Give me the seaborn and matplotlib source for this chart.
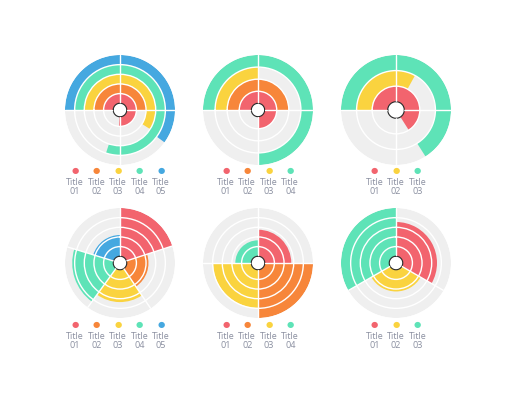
import numpy as np
import matplotlib
matplotlib.use("Agg")
import matplotlib.pyplot as plt
import seaborn as sns

sns.set_style("white")
plt.rcParams['font.family'] = ['Open Sans', 'DejaVu Sans']

RED, ORANGE, YELLOW, TEAL, BLUE = "#F2646E", "#F7863A", "#FAD33F", "#5EE3B7", "#45A8E0"
GRAY = "#EFEFEF"
TXT = "#8A8FA0"

# radial bar charts: fraction of full circle per ring (inner -> outer)
radial1_vals = [0.76, 0.50, 0.59, 0.80, 0.60]
radial1_cols = [RED, ORANGE, YELLOW, TEAL, BLUE]
radial2_vals = [0.75, 0.50, 0.25, 0.75]
radial2_cols = [RED, ORANGE, YELLOW, TEAL]
radial3_vals = [0.66, 0.33, 0.66]
radial3_cols = [RED, YELLOW, TEAL]

# rose charts: sector boundaries (deg clockwise from 12 o'clock) and radii
rose1_edges = [0, 72, 146, 216, 287, 360]
rose1_vals = [1.0, 0.45, 0.67, 0.85, 0.44]
rose1_cols = [RED, ORANGE, YELLOW, TEAL, BLUE]
rose2_edges = [0, 90, 180, 270, 360]
rose2_vals = [0.55, 1.0, 0.79, 0.33]
rose2_cols = [RED, ORANGE, YELLOW, TEAL]
rose3_edges = [0, 120, 240, 360]
rose3_vals = [0.71, 0.45, 1.0]
rose3_cols = [RED, YELLOW, TEAL]

legend_labels = ["01", "02", "03", "04", "05"]

W, H = 517, 400
fig = plt.figure(figsize=(W / 100, H / 100), dpi=100)
fig.patch.set_facecolor("white")


def make_ax(cx, cy, r=55):
    ax = fig.add_axes([(cx - r) / W, 1 - (cy + r) / H, 2 * r / W, 2 * r / H], projection="polar")
    ax.set_facecolor("none")
    ax.spines["polar"].set_visible(False)
    ax.set_xticklabels([])
    ax.set_yticklabels([])
    return ax


def radial(cx, cy, vals, cols, origin):
    ax = make_ax(cx, cy)
    ax.set_theta_zero_location("W")
    ax.set_theta_direction(-1)
    n = len(vals)
    for i, (v, c) in enumerate(zip(vals, cols)):
        ax.bar(np.pi, 1, width=2 * np.pi, bottom=i, color=GRAY, linewidth=0, align="center")
        ax.bar(0, 1, width=v * 2 * np.pi, bottom=i, color=c, linewidth=0, align="edge")
    ax.set_ylim(0, n)
    ax.set_rorigin(origin)
    ax.set_yticks(np.arange(1, n))
    ax.set_xticks(np.radians([0, 90, 180, 270]))
    ax.grid(True, color="white", linewidth=1)
    ax.set_axisbelow(False)
    return ax


def rose(cx, cy, edges, vals, cols):
    ax = make_ax(cx, cy)
    ax.set_theta_zero_location("N")
    ax.set_theta_direction(-1)
    ax.bar(0, 1, width=2 * np.pi, color=GRAY, linewidth=0)
    th = np.radians(edges)
    for a, b, v, c in zip(th[:-1], th[1:], vals, cols):
        ax.bar(a, v, width=b - a, color=c, linewidth=0, align="edge")
    ax.set_ylim(0, 1)
    ax.set_rorigin(-0.14)
    ax.set_yticks([0.2, 0.4, 0.6, 0.8])
    ax.set_xticks(th[:-1])
    ax.grid(True, color="white", linewidth=1)
    ax.set_axisbelow(False)
    return ax


def legend(cx, y, cols):
    n = len(cols)
    xs = cx + (np.arange(n) - (n - 1) / 2) * 21.5
    for x, c, lab in zip(xs, cols, legend_labels):
        fig.text(x / W, 1 - y / H, "\u25CF", color=c, ha="center", va="center", fontsize=6)
        fig.text(x / W, 1 - (y + 15) / H, "Title\n" + lab, color=TXT, ha="center", va="center",
                 fontsize=6.5, linespacing=1.1)


radial(120, 110, radial1_vals, radial1_cols, -0.7)
radial(258, 110, radial2_vals, radial2_cols, -0.55)
radial(396, 110, radial3_vals, radial3_cols, -0.53)
rose(120, 263, rose1_edges, rose1_vals, rose1_cols)
rose(258, 263, rose2_edges, rose2_vals, rose2_cols)
rose(396, 263, rose3_edges, rose3_vals, rose3_cols)

legend(118, 172, radial1_cols)
legend(258, 172, radial2_cols)
legend(396, 172, radial3_cols)
legend(118, 326, rose1_cols)
legend(258, 326, rose2_cols)
legend(396, 326, rose3_cols)

fig.savefig("out.png", dpi=100, facecolor="white")
